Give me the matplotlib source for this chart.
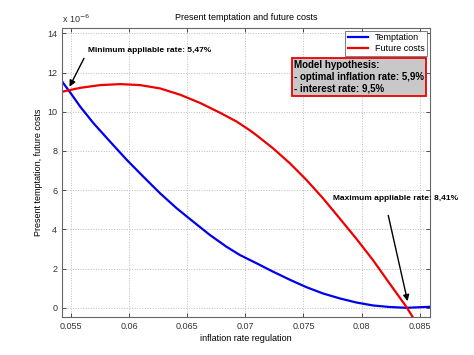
import matplotlib
matplotlib.use("Agg")
import matplotlib.pyplot as plt

plt.rcParams["font.family"] = ["Liberation Sans", "DejaVu Sans"]

# values in units of 1e-6
rate_tempt = [0.0542, 0.05491, 0.05577, 0.05692, 0.05835, 0.05979, 0.06122,
              0.06265, 0.06409, 0.06551, 0.06695, 0.06838, 0.06953, 0.07096,
              0.07239, 0.07383, 0.07526, 0.07669, 0.07812, 0.07956, 0.08099,
              0.08242, 0.08386, 0.0859]
temptation = [11.55, 10.98, 10.26, 9.41, 8.47, 7.54, 6.68,
              5.84, 5.07, 4.39, 3.71, 3.11, 2.69, 2.27,
              1.84, 1.43, 1.05, 0.73, 0.48, 0.27, 0.12,
              0.04, 0.0, 0.05]

rate_cost = [0.0542, 0.05577, 0.05749, 0.05921, 0.06093, 0.06265, 0.06437,
             0.06609, 0.06781, 0.06924, 0.07039, 0.07096, 0.07239, 0.07383,
             0.07526, 0.07669, 0.07812, 0.07956, 0.08099, 0.08242, 0.08386,
             0.08443]
future_costs = [11.02, 11.22, 11.36, 11.41, 11.36, 11.19, 10.87,
                10.45, 9.95, 9.50, 9.05, 8.80, 8.13, 7.37,
                6.52, 5.58, 4.56, 3.52, 2.43, 1.24, 0.05,
                -0.49]

x_ticks = [0.055, 0.06, 0.065, 0.07, 0.075, 0.08, 0.085]
x_labels = ["0.055", "0.06", "0.065", "0.07", "0.075", "0.08", "0.085"]
y_ticks = [0, 2, 4, 6, 8, 10, 12, 14]

min_rate = (0.05474, 11.15)
max_rate = (0.0841, 0.05)

fig = plt.figure(figsize=(4.74, 3.55), dpi=100)
ax = fig.add_axes([0.1308, 0.107, 0.7764, 0.814])

ax.plot(rate_tempt, temptation, color="#0000ee", lw=1.6, label="Temptation")
ax.plot(rate_cost, future_costs, color="#ee0000", lw=1.6, label="Future costs")

ax.set_xlim(0.0542, 0.0859)
ax.set_ylim(-0.47, 14.27)
ax.set_xticks(x_ticks)
ax.set_xticklabels(x_labels)
ax.set_yticks(y_ticks)
ax.tick_params(direction="in", top=True, right=True, labelsize=6.5,
               length=3, width=0.6, colors="#333333")
for sp in ax.spines.values():
    sp.set_color("#666666")
    sp.set_linewidth(0.8)
ax.grid(True, ls=":", color="#bbbbbb", lw=0.7)

ax.set_title("Present temptation and future costs", fontsize=6.5, pad=6)
ax.set_xlabel("inflation rate regulation", fontsize=6.5, labelpad=2)
ax.set_ylabel("Present temptation, future costs", fontsize=6.5, labelpad=3)
ax.text(0.0, 1.012, r"x 10$^{-6}$", transform=ax.transAxes, fontsize=6.5,
        color="#333333", ha="left", va="bottom")

leg = ax.legend(loc="upper right", fontsize=6.5, frameon=True, fancybox=False,
                borderaxespad=0.3, handlelength=2.2, borderpad=0.3,
                labelspacing=0.15)
leg.get_frame().set_edgecolor("#444444")
leg.get_frame().set_linewidth(0.6)

ax.text(0.63, 0.89,
        "Model hypothesis:\n- optimal inflation rate: 5,9%\n- interest rate: 9,5%",
        transform=ax.transAxes, fontsize=7, fontweight="bold", ha="left",
        va="top", linespacing=1.25,
        bbox=dict(boxstyle="square,pad=0.22", facecolor="#c8c8c8",
                  edgecolor="#ee0000", lw=1.3))

ax.text(0.05646, 13.1, "Minimum appliable rate: 5,47%", fontsize=6,
        fontweight="bold", ha="left", va="center")
ax.annotate("", xy=min_rate, xytext=(0.05620, 12.85),
            arrowprops=dict(arrowstyle="-|>", color="black", lw=1.0,
                            mutation_scale=9))

ax.text(0.07752, 5.6, "Maximum appliable rate: 8,41%", fontsize=6,
        fontweight="bold", ha="left", va="center")
ax.annotate("", xy=(max_rate[0] - 0.00008, 0.2), xytext=(0.08225, 4.85),
            arrowprops=dict(arrowstyle="-|>", color="black", lw=1.0,
                            mutation_scale=9))

fig.savefig("out.png", dpi=100)
